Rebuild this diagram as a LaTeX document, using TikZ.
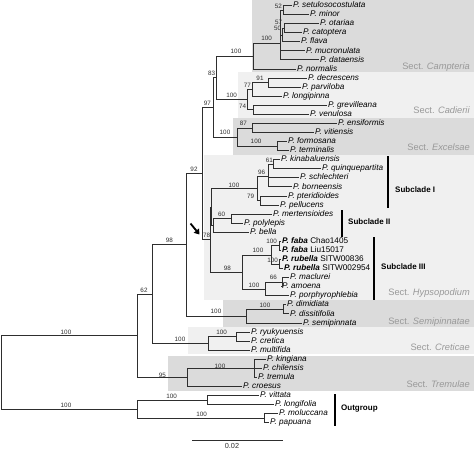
\documentclass[tikz,border=0pt]{standalone}
\usepackage{fontspec}
\setmainfont{Liberation Sans}
\usetikzlibrary{arrows.meta}
\definecolor{dk}{gray}{0.86}
\definecolor{lt}{gray}{0.94}
\definecolor{brc}{gray}{0.18}
\definecolor{sectc}{gray}{0.6}
\tikzset{
 br/.style={draw=brc, line width=1pt},
 leaf/.style={anchor=west, inner xsep=1.5pt, inner ysep=0pt, text height=5.9pt, text depth=1.7pt, font=\fontsize{8.2}{9}\selectfont\itshape},
 bs/.style={inner sep=0pt, font=\fontsize{6.3}{7}\selectfont, text=brc},
 sect/.style={anchor=east, inner sep=0pt, text height=6.7pt, text depth=1.9pt, font=\fontsize{9.3}{10}\selectfont, text=sectc},
 sub/.style={anchor=west, inner sep=0pt, text height=5.8pt, text depth=1.6pt, font=\fontsize{8}{9}\selectfont\bfseries},
 cbar/.style={line width=2pt, black},
}
\begin{document}
\begin{tikzpicture}[x=1pt,y=-1pt]
\useasboundingbox (0,0) rectangle (474,450);
% section shading
\fill[dk] (252,0) rectangle (474,72);
\fill[lt] (238,72) rectangle (474,117.5);
\fill[dk] (233,117.5) rectangle (474,155);
\fill[lt] (204,155) rectangle (474,300);
\fill[dk] (223,300) rectangle (474,327);
\fill[lt] (188,327) rectangle (474,354);
\fill[dk] (168,356) rectangle (474,391);
% leaves
\node[leaf] (L1) at (291.5,5.5) {P. setulosocostulata};
\node[leaf] (L2) at (308.5,14.6) {P. minor};
\node[leaf] (L3) at (318.5,23.6) {P. otariaa};
\node[leaf] (L4) at (301.5,32.7) {P. catoptera};
\node[leaf] (L5) at (299.5,41.8) {P. flava};
\node[leaf] (L6) at (304.5,50.9) {P. mucronulata};
\node[leaf] (L7) at (318.5,59.9) {P. dataensis};
\node[leaf] (L8) at (295.5,69.0) {P. normalis};
\node[leaf] (L9) at (306.5,78.1) {P. decrescens};
\node[leaf] (L10) at (300.5,87.1) {P. parviloba};
\node[leaf] (L11) at (281.5,96.2) {P. longipinna};
\node[leaf] (L12) at (326.5,105.3) {P. grevilleana};
\node[leaf] (L13) at (308.5,114.3) {P. venulosa};
\node[leaf] (L14) at (336.5,123.4) {P. ensiformis};
\node[leaf] (L15) at (313.5,132.5) {P. vitiensis};
\node[leaf] (L16) at (286.5,141.6) {P. formosana};
\node[leaf] (L17) at (288.5,150.6) {P. terminalis};
\node[leaf] (L18) at (279.5,159.7) {P. kinabaluensis};
\node[leaf] (L19) at (320.5,168.8) {P. quinquepartita};
\node[leaf] (L20) at (298.5,177.8) {P. schlechteri};
\node[leaf] (L21) at (291.5,186.9) {P. borneensis};
\node[leaf] (L22) at (286.5,196.0) {P. pteridioides};
\node[leaf] (L23) at (278.5,205.0) {P. pellucens};
\node[leaf] (L24) at (271.5,214.1) {P. mertensioides};
\node[leaf] (L25) at (242.5,223.2) {P. polylepis};
\node[leaf] (L26) at (248.5,232.3) {P. bella};
\node[leaf] (L27) at (280.5,241.3) {\bfseries P. faba \upshape\mdseries Chao1405};
\node[leaf] (L28) at (280.5,250.4) {\bfseries P. faba \upshape\mdseries Liu15017};
\node[leaf] (L29) at (280.5,259.5) {\bfseries P. rubella \upshape\mdseries SITW00836};
\node[leaf] (L30) at (282.5,268.5) {\bfseries P. rubella \upshape\mdseries SITW002954};
\node[leaf] (L31) at (288.5,277.6) {P. maclurei};
\node[leaf] (L32) at (280.5,286.7) {P. amoena};
\node[leaf] (L33) at (288.5,295.7) {P. porphyrophlebia};
\node[leaf] (L34) at (285.5,304.8) {P. dimidiata};
\node[leaf] (L35) at (288.5,313.9) {P. dissitifolia};
\node[leaf] (L36) at (301.5,323.0) {P. semipinnata};
\node[leaf] (L37) at (249.5,332.0) {P. ryukyuensis};
\node[leaf] (L38) at (249.5,341.1) {P. cretica};
\node[leaf] (L39) at (249.5,350.2) {P. multifida};
\node[leaf] (L40) at (265.5,359.2) {P. kingiana};
\node[leaf] (L41) at (261.5,368.3) {P. chilensis};
\node[leaf] (L42) at (256.5,377.4) {P. tremula};
\node[leaf] (L43) at (241.5,386.4) {P. croesus};
\node[leaf] (L44) at (258.5,395.5) {P. vittata};
\node[leaf] (L45) at (273.5,404.6) {P. longifolia};
\node[leaf] (L46) at (277.5,413.7) {P. moluccana};
\node[leaf] (L47) at (268.5,422.7) {P. papuana};
% internal nodes
\coordinate (root) at (1.5,372.5);
\coordinate (ING) at (137,335.8);
\coordinate (OUT) at (137,409.1);
\coordinate (n62) at (152,294.2);
\coordinate (TRE) at (187,377.4);
\coordinate (nking) at (254,368.3);
\coordinate (n98a) at (186,244.9);
\coordinate (CRE) at (208,343.4);
\coordinate (nryu) at (236,336.6);
\coordinate (n92) at (202,173.5);
\coordinate (SEM) at (246,316.2);
\coordinate (ndim) at (283,309.4);
\coordinate (n97) at (213,107.4);
\coordinate (n78) at (210,239.5);
\coordinate (n83) at (216.5,77.8);
\coordinate (EXC) at (237,137);
\coordinate (n87) at (252.5,128);
\coordinate (nfor) at (277,146.1);
\coordinate (CAMP) at (253,56);
\coordinate (core) at (280.5,43);
\coordinate (n52) at (283,10.05);
\coordinate (n50) at (282,35);
\coordinate (n57) at (284,28.2);
\coordinate (CAD) at (247,99.6);
\coordinate (n77) at (252.7,89.4);
\coordinate (n91) at (268,82.6);
\coordinate (n74) at (253,109.8);
\coordinate (nX) at (211.7,207);
\coordinate (SUBI) at (257,188.4);
\coordinate (n96) at (268,176.3);
\coordinate (n61) at (273,164.2);
\coordinate (n79) at (260,200.5);
\coordinate (nIIb) at (213.5,225.5);
\coordinate (n60) at (231,218.7);
\coordinate (n98b) at (242,272);
\coordinate (nfr) at (271,255);
\coordinate (nfaba) at (279,245.9);
\coordinate (nrub) at (279.5,264);
\coordinate (nmac) at (265,289);
\coordinate (n66) at (282,282.2);
\coordinate (nvit) at (207,400);
\coordinate (nmol) at (264,418.2);
% branches
\foreach \p/\c in {root/ING, root/OUT, ING/n62, ING/TRE, n62/n98a, n62/CRE,
  n98a/n92, n98a/SEM, n92/n97, n92/n78, n97/n83, n97/EXC, n83/CAMP, n83/CAD,
  CAMP/core, CAMP/L8, core/n52, core/n50, core/L6, core/L7, n52/L1, n52/L2,
  n50/n57, n50/L5, n57/L3, n57/L4, CAD/n77, CAD/n74, n77/n91, n77/L11,
  n91/L9, n91/L10, n74/L12, n74/L13, EXC/n87, EXC/nfor, n87/L14, n87/L15,
  nfor/L16, nfor/L17, n78/nX, n78/n98b, nX/SUBI, nX/nIIb, SUBI/n96, SUBI/n79,
  n96/n61, n96/L20, n96/L21, n61/L18, n61/L19, n79/L22, n79/L23,
  nIIb/n60, nIIb/L26, n60/L24, n60/L25, n98b/nfr, n98b/nmac, nfr/nfaba, nfr/nrub,
  nfaba/L27, nfaba/L28, nrub/L29, nrub/L30, nmac/n66, nmac/L33, n66/L31, n66/L32,
  SEM/ndim, SEM/L36, ndim/L34, ndim/L35, CRE/nryu, CRE/L39, nryu/L37, nryu/L38,
  TRE/nking, TRE/L43, nking/L40, nking/L41, nking/L42,
  OUT/nvit, OUT/nmol, nvit/L44, nvit/L45, nmol/L46, nmol/L47}
  {\draw[br] (\p) |- (\c);}
% bootstrap values
\node[bs] (bING) at (66,332.3) {100};
\node[bs] (bOUT) at (66,405.7) {100};
\node[bs] (b62) at (144,290) {62};
\node[bs] (b98a) at (169.3,240.7) {98};
\node[bs] (b92) at (194,169.3) {92};
\node[bs] (b97) at (207.3,103.3) {97};
\node[bs] (b83) at (211.7,73.3) {83};
\node[bs] (bCAMP) at (236,51.7) {100};
\node[bs] (bCAD) at (231.7,95.7) {100};
\node[bs] (bcore) at (266.7,38.8) {100};
\node[bs] (b52) at (278.3,6) {52};
\node[bs] (b57) at (278.6,22.3) {57};
\node[bs] (b50) at (277.7,28.5) {50};
\node[bs] (b91) at (260,78.3) {91};
\node[bs] (b77) at (247.3,85) {77};
\node[bs] (b74) at (242.7,106) {74};
\node[bs] (b87) at (243.3,123.3) {87};
\node[bs] (bEXC) at (225,132.7) {100};
\node[bs] (bfor) at (256,141.7) {100};
\node[bs] (b61) at (269.3,160) {61};
\node[bs] (b96) at (261.7,172.5) {96};
\node[bs] (b79) at (250.7,196.7) {79};
\node[bs] (bSUBI) at (234,185.7) {100};
\node[bs] (b60) at (221.7,214.3) {60};
\node[bs] (b78) at (206.7,235.7) {78};
\node[bs] (b98b) at (227.3,268.3) {98};
\node[bs] (bfr) at (258,250.5) {100};
\node[bs] (bfaba) at (271.7,241.7) {100};
\node[bs] (brub) at (272.7,260) {100};
\node[bs] (bmac) at (254,285) {100};
\node[bs] (b66) at (273.3,277.7) {66};
\node[bs] (bdim) at (265,305) {100};
\node[bs] (bSEM) at (216,311.7) {100};
\node[bs] (bryu) at (221.7,332.7) {100};
\node[bs] (bCRE) at (180,339.3) {100};
\node[bs] (bking) at (220,366.7) {100};
\node[bs] (b95) at (162.3,375) {95};
\node[bs] (bvit) at (171.7,396) {100};
\node[bs] (bmol) at (201.7,414.3) {100};
% section labels
\node[sect] (sCamp) at (470,66.7) {Sect. \textit{Campteria}};
\node[sect] (sCad) at (470,111) {Sect. \textit{Cadierii}};
\node[sect] (sExc) at (470,148.3) {Sect. \textit{Excelsae}};
\node[sect] (sHyp) at (470,293.3) {Sect. \textit{Hypsopodium}};
\node[sect] (sSem) at (470,321.7) {Sect. \textit{Semipinnatae}};
\node[sect] (sCre) at (470,348.3) {Sect. \textit{Creticae}};
\node[sect] (sTre) at (470,385) {Sect. \textit{Tremulae}};
% subclade bars and labels
\coordinate (bIa) at (388,156); \coordinate (bIb) at (388,208);
\coordinate (bIIa) at (342,210); \coordinate (bIIb) at (342,237);
\coordinate (bIIIa) at (374,237); \coordinate (bIIIb) at (374,300);
\coordinate (bOa) at (335,394); \coordinate (bOb) at (335,426);
\draw[cbar] (bIa) -- (bIb);
\draw[cbar] (bIIa) -- (bIIb);
\draw[cbar] (bIIIa) -- (bIIIb);
\draw[cbar] (bOa) -- (bOb);
\node[sub] (tI) at (395,190) {Subclade I};
\node[sub] (tII) at (348,222) {Subclade II};
\node[sub] (tIII) at (381,267) {Subclade III};
\node[sub] (tO) at (341,408.3) {Outgroup};
% arrow
\coordinate (arS) at (190.5,223.5);
\coordinate (arE) at (199.5,234.5);
\draw[line width=1.8pt, -{Triangle[length=5pt,width=6.5pt]}] (arS) -- (arE);
% scale bar
\coordinate (sbA) at (192,440);
\coordinate (sbB) at (283,440);
\draw[br] (sbA) -- (sbB);
\node[anchor=base, inner sep=0pt, font=\fontsize{7.3}{8}\selectfont, text=brc] (sbl) at (232,448.6) {0.02};
\end{tikzpicture}
\end{document}
